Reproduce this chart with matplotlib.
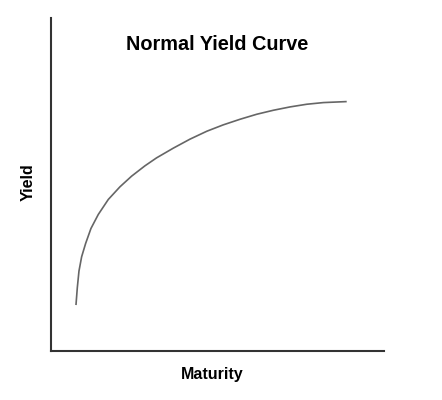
import matplotlib
matplotlib.use("Agg")
from matplotlib import pyplot as plt

# points (maturity, yield), arbitrary units 0-10
maturity = [0.75, 0.79, 0.84, 0.92, 1.04, 1.20, 1.42, 1.72, 2.07, 2.42, 2.82, 3.17,
            3.67, 4.17, 4.68, 5.17, 5.68, 6.18, 6.68, 7.18, 7.68, 8.18, 8.88]
yield_ = [1.38, 1.90, 2.40, 2.83, 3.23, 3.68, 4.10, 4.55, 4.93, 5.25, 5.56, 5.80,
          6.09, 6.36, 6.60, 6.79, 6.96, 7.11, 7.23, 7.33, 7.41, 7.46, 7.49]

title = "Normal Yield Curve"
xlabel = "Maturity"
ylabel = "Yield"

plt.rcParams["font.family"] = ["Liberation Sans", "DejaVu Sans"]

fig = plt.figure(figsize=(4.42, 4.0), dpi=100)
ax = fig.add_axes([51 / 442, 49 / 400, 333 / 442, 333 / 400])

ax.plot(maturity, yield_, color="#666666", lw=1.2, solid_capstyle="butt",
        solid_joinstyle="round")

ax.set_xlim(0, 10)
ax.set_ylim(0, 10)
ax.set_xticks([])
ax.set_yticks([])
for side in ("top", "right"):
    ax.spines[side].set_visible(False)
for side in ("left", "bottom"):
    ax.spines[side].set_color("#333333")
    ax.spines[side].set_linewidth(1.5)

ax.text(0.5, 0.92, title, transform=ax.transAxes, ha="center", va="center",
        fontsize=14.3, fontweight="bold")
fig.text(212 / 442, 1 - 375 / 400, xlabel, ha="center", va="center",
         fontsize=11.5, fontweight="bold")
fig.text(28 / 442, 1 - 182 / 400, ylabel, ha="center", va="center",
         rotation=90, fontsize=11.5, fontweight="bold")

fig.savefig("out.png", dpi=100, facecolor="white")
